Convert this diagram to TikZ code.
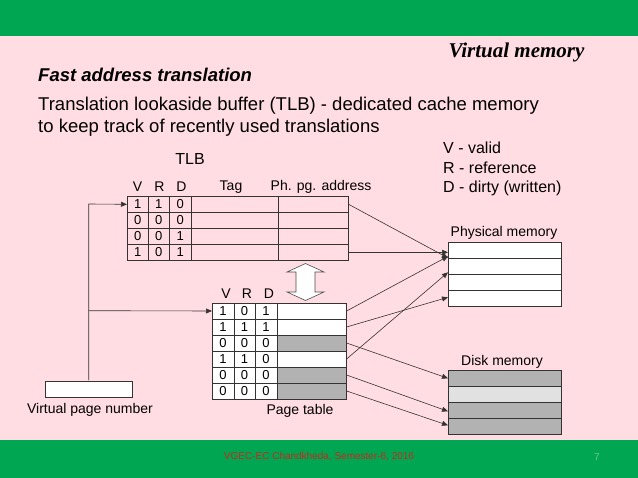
\documentclass[tikz,border=0pt]{standalone}
\usepackage{fontspec}
\setmainfont{Liberation Sans}
\newfontfamily\titlefont{Liberation Serif}
\usetikzlibrary{arrows.meta}
\definecolor{bg}{RGB}{255,221,227}
\definecolor{bar}{RGB}{0,166,81}
\definecolor{dk}{RGB}{178,178,178}
\definecolor{lt}{RGB}{225,225,225}
\definecolor{foot}{RGB}{200,40,30}
\begin{document}
\begin{tikzpicture}[x=1pt,y=-1pt,
  cell/.style={draw=black!80,line width=0.6pt,minimum height=16pt,inner sep=0pt,anchor=north west,font=\fontsize{13}{13}\selectfont},
  lbl/.style={font=\fontsize{14}{14}\selectfont,inner sep=0pt},
  arr/.style={-{Triangle[length=6pt,width=5pt]},line width=0.6pt,black!80}]
\useasboundingbox (0,0) rectangle (638,478);
\fill[bg] (0,0) rectangle (638,478);
\fill[bar] (0,0) rectangle (638,36);
\fill[bar] (0,440) rectangle (638,478);
\node[font=\titlefont\bfseries\itshape\fontsize{21}{21}\selectfont,anchor=east] (title) at (588,52) {Virtual memory};
\node[font=\bfseries\itshape\fontsize{18.5}{18.5}\selectfont,anchor=west,inner sep=0pt] (sub) at (38,75) {Fast address translation};
\node[font=\fontsize{18.5}{22}\selectfont,anchor=north west,align=left,inner sep=0pt] (body) at (38,97) {Translation lookaside buffer (TLB) - dedicated cache memory\\to keep track of recently used translations};
\node[lbl,font=\fontsize{16}{16}\selectfont] (tlbl) at (190,159) {TLB};
\node[font=\fontsize{16}{19.5}\selectfont,anchor=north west,align=left,inner sep=0pt] (leg) at (443,142) {V - valid\\R - reference\\D - dirty (written)};
% TLB
\foreach \v/\r/\d [count=\i from 0] in {1/1/0,0/0/0,0/0/1,1/0/1}{
  \node[cell,minimum width=21pt] (ta\i) at (127,196+16*\i) {\v};
  \node[cell,minimum width=21pt] (tb\i) at (148,196+16*\i) {\r};
  \node[cell,minimum width=22pt] (tc\i) at (169,196+16*\i) {\d};
  \node[cell,minimum width=87pt] (tt\i) at (191,196+16*\i) {};
  \node[cell,minimum width=70pt] (tp\i) at (278,196+16*\i) {};
}
\node[lbl] (hv) at (137.5,187) {V};
\node[lbl] (hr) at (159.5,187) {R};
\node[lbl] (hd) at (181.5,187) {D};
\node[lbl] (htag) at (231,187) {Tag};
\node[lbl] (hph) at (321,187) {Ph. pg. address};
% Page table
\foreach \v/\r/\d/\f [count=\i from 0] in {1/0/1/white,1/1/1/white,0/0/0/dk,1/1/0/white,0/0/0/dk,0/0/0/dk}{
  \node[cell,fill=white,minimum width=21.5pt] (pa\i) at (212,302.7+16*\i) {\v};
  \node[cell,fill=white,minimum width=21.5pt] (pb\i) at (233.5,302.7+16*\i) {\r};
  \node[cell,fill=white,minimum width=21.6pt] (pc\i) at (255,302.7+16*\i) {\d};
  \node[cell,fill=\f,minimum width=69.4pt] (pp\i) at (276.6,302.7+16*\i) {};
}
\node[lbl] (pv) at (226,294) {V};
\node[lbl] (pr) at (247,294) {R};
\node[lbl] (pd) at (269,294) {D};
\node[lbl] (ptl) at (300,411) {Page table};
% Physical memory
\foreach \i in {0,...,3}{\node[cell,fill=white,minimum width=113pt] (pm\i) at (448,242+16*\i) {};}
\node[lbl] (pml) at (504,233) {Physical memory};
\foreach \f [count=\i from 0] in {dk,lt,dk,dk}{\node[cell,fill=\f,minimum width=113pt] (dm\i) at (448,370+16*\i) {};}
\node[lbl] (dml) at (502,362) {Disk memory};
% VPN
\node[cell,fill=white,minimum width=87pt] (vpn) at (45,380.7) {};
\node[lbl] (vpl) at (90,410) {Virtual page number};
\coordinate (j1) at (88.7,310.7);
\coordinate (j0) at (88.7,204);
\draw[line width=0.6pt,black!80] (vpn.north) -- (j0);
\draw[arr] (j0) -- (ta0.west);
\draw[arr] (j1) -- (pa0.west);
% double arrow
\draw[black!70,fill=white,line width=0.6pt,line join=miter]
  (305.5,263.5) -- (324,272) -- (315,272) -- (315,292) -- (324,292) -- (305.5,300.5)
  -- (287,292) -- (296,292) -- (296,272) -- (287,272) -- cycle;
% connectors
\draw[arr] (tp0.east) -- (pm1.north west);
\draw[arr] (tp3.east) -- ([yshift=-2pt]pm0.west);
\draw[arr] (pp0.east) -- ([yshift=-6pt]pm0.west);
\draw[arr] (pp1.east) -- ([yshift=1pt]pm3.west);
\draw[arr] (pp3.east) -- ([yshift=-6pt]pm1.west);
\draw[arr] (pp2.east) -- (dm0.west);
\draw[arr] (pp4.east) -- ([yshift=-1pt]dm2.west);
\draw[arr] (pp5.east) -- ([yshift=1pt]dm3.west);
\node[font=\fontsize{10}{10}\selectfont,text=foot] (ft) at (319,457) {VGEC-EC Chandkheda, Semester-6, 2016};
\node[font=\fontsize{10}{10}\selectfont,text=bar!60!white] (pg) at (597,457) {7};
\end{tikzpicture}
\end{document}
